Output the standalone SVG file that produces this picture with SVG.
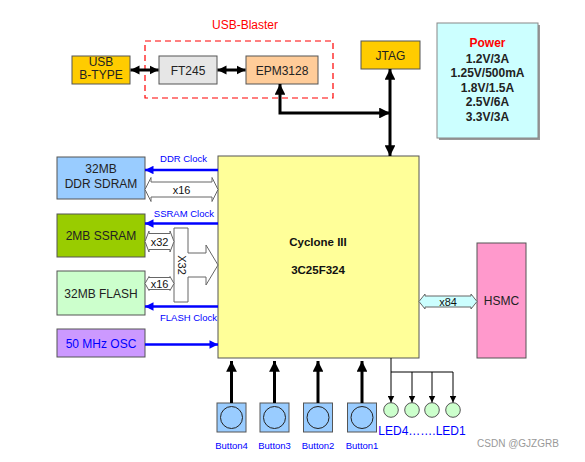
<svg xmlns="http://www.w3.org/2000/svg" width="585" height="462" viewBox="0 0 585 462">
<style>
text{font-family:"Liberation Sans",Arial,sans-serif;}
.box{stroke:#555;stroke-width:1;}
.lbl{font-size:12px;fill:#222;text-anchor:middle;}
.blue{fill:#0000ff;}
.clk{font-size:9.5px;fill:#0000ff;text-anchor:end;}
.blk{stroke:#000;stroke-width:3;fill:none;}
.bl{stroke:#0000ff;stroke-width:2.5;fill:none;}
.thin{stroke:#000;stroke-width:1;fill:none;}
.bus{fill:#fff;stroke:#666;stroke-width:1;}
.pw{font-size:12px;font-weight:bold;fill:#222;text-anchor:middle;}
.btn{font-size:9.5px;fill:#0000ff;text-anchor:middle;}
</style>
<defs>
<marker id="ab" viewBox="0 0 10 10" refX="10" refY="5" markerWidth="3.6" markerHeight="3.6" orient="auto-start-reverse" markerUnits="strokeWidth"><path d="M0,0 L10,5 L0,10 z" fill="#000"/></marker>
<marker id="as" viewBox="0 0 10 10" refX="10" refY="5" markerWidth="3" markerHeight="3.4" orient="auto-start-reverse" markerUnits="strokeWidth"><path d="M0,0 L10,5 L0,10 z" fill="#000"/></marker>
<marker id="abl" viewBox="0 0 10 10" refX="10" refY="5" markerWidth="4" markerHeight="3.4" orient="auto" markerUnits="strokeWidth"><path d="M0,0 L10,5 L0,10 z" fill="#0000ff"/></marker>
<marker id="at" viewBox="0 0 10 10" refX="10" refY="5" markerWidth="7" markerHeight="7" orient="auto" markerUnits="strokeWidth"><path d="M0,0 L10,5 L0,10 z" fill="#000"/></marker>
</defs>
<rect width="585" height="462" fill="#fff"/>

<g id="usb-blaster">
<rect x="145" y="41" width="188" height="57" fill="none" stroke="#ff0000" stroke-width="1.2" stroke-dasharray="6,4"/>
<text x="245" y="29" font-size="12" fill="#ff0000" text-anchor="middle">USB-Blaster</text>
</g>
<g id="usb">
<rect class="box" x="72" y="56" width="58" height="28" fill="#ffcc00"/>
<text class="lbl" x="101" y="65.5" font-size="11.5">USB</text>
<text class="lbl" x="101" y="78.5" font-size="11.5">B-TYPE</text>
</g>
<g id="ft245">
<rect class="box" x="159" y="56" width="58" height="28" fill="#e6e6e6"/>
<text class="lbl" x="188" y="74.5">FT245</text>
</g>
<g id="epm3128">
<rect class="box" x="246" y="56" width="72" height="28" fill="#ffcc99"/>
<text class="lbl" x="282" y="74.5">EPM3128</text>
</g>
<g id="jtag">
<rect class="box" x="361" y="41" width="59" height="28" fill="#ffcc00"/>
<text class="lbl" x="390.5" y="59.5">JTAG</text>
</g>
<g id="power">
<rect x="439" y="25" width="101" height="115" fill="#999"/>
<rect x="437" y="23" width="101" height="115" fill="#ccffff" stroke="#888" stroke-width="1"/>
<text class="pw" x="487.5" y="47" style="fill:#ff0000">Power</text>
<text class="pw" x="487.5" y="62.5">1.2V/3A</text>
<text class="pw" x="487.5" y="77">1.25V/500mA</text>
<text class="pw" x="487.5" y="91.5">1.8V/1.5A</text>
<text class="pw" x="487.5" y="106">2.5V/6A</text>
<text class="pw" x="487.5" y="120.5">3.3V/3A</text>
</g>
<g id="cyclone">
<rect class="box" x="218" y="156" width="201" height="202" fill="#ffff99"/>
<text x="318" y="246" font-size="11.5" font-weight="bold" fill="#111" text-anchor="middle">Cyclone III</text>
<text x="318" y="273.5" font-size="11.5" font-weight="bold" fill="#111" text-anchor="middle">3C25F324</text>
</g>
<g id="ddr">
<rect class="box" x="57" y="157" width="88" height="42" fill="#99ccff"/>
<text class="lbl" x="101" y="172.5">32MB</text>
<text class="lbl" x="101" y="188">DDR SDRAM</text>
</g>
<g id="ssram">
<rect class="box" x="57" y="214" width="88" height="43" fill="#99cc00"/>
<text class="lbl" x="101" y="240">2MB SSRAM</text>
</g>
<g id="flash">
<rect class="box" x="57" y="271" width="88" height="44" fill="#ccffcc"/>
<text class="lbl" x="101" y="297.5">32MB FLASH</text>
</g>
<g id="osc">
<rect class="box" x="57" y="329" width="88" height="28" fill="#cc99ff"/>
<text class="lbl" x="101" y="347.5" style="fill:#0000ff">50 MHz OSC</text>
</g>
<g id="hsmc">
<rect class="box" x="477" y="243" width="49" height="115" fill="#ff99cc"/>
<text class="lbl" x="501.5" y="305">HSMC</text>
</g>
<g id="buttons">
<g id="button4"><rect class="box" x="217" y="403" width="29" height="29" fill="#99ccff"/><circle cx="231.5" cy="417.5" r="11" fill="#99ccff" stroke="#222"/><text class="btn" x="231.5" y="449">Button4</text></g>
<g id="button3"><rect class="box" x="260" y="403" width="29" height="29" fill="#99ccff"/><circle cx="274.5" cy="417.5" r="11" fill="#99ccff" stroke="#222"/><text class="btn" x="274.5" y="449">Button3</text></g>
<g id="button2"><rect class="box" x="303.5" y="403" width="29" height="29" fill="#99ccff"/><circle cx="318" cy="417.5" r="11" fill="#99ccff" stroke="#222"/><text class="btn" x="318" y="449">Button2</text></g>
<g id="button1"><rect class="box" x="347.5" y="403" width="29" height="29" fill="#99ccff"/><circle cx="362" cy="417.5" r="11" fill="#99ccff" stroke="#222"/><text class="btn" x="362" y="449">Button1</text></g>
</g>
<g id="leds">
<circle cx="391" cy="410" r="7.3" fill="#ccffcc" stroke="#555"/>
<circle cx="412" cy="410" r="7.3" fill="#ccffcc" stroke="#555"/>
<circle cx="432" cy="410" r="7.3" fill="#ccffcc" stroke="#555"/>
<circle cx="453" cy="410" r="7.3" fill="#ccffcc" stroke="#555"/>
<text x="422" y="434.5" font-size="12" fill="#0000ff" text-anchor="middle">LED4…….LED1</text>
</g>

<g id="connectors">
<line class="blk" x1="130.5" y1="70" x2="158.5" y2="70" stroke-width="2.5" marker-start="url(#as)" marker-end="url(#as)"/>
<line class="blk" x1="217.5" y1="70" x2="245.5" y2="70" stroke-width="2.5" marker-start="url(#as)" marker-end="url(#as)"/>
<polyline class="blk" points="280,84 280,113 390,113" marker-start="url(#ab)" marker-end="url(#ab)"/>
<line class="blk" x1="390" y1="69" x2="390" y2="156" marker-start="url(#ab)" marker-end="url(#ab)"/>

<line class="bl" x1="218" y1="170" x2="145" y2="170" marker-end="url(#abl)"/>
<text class="clk" x="207" y="162">DDR Clock</text>
<line class="bl" x1="218" y1="223.5" x2="145" y2="223.5" marker-end="url(#abl)"/>
<text class="clk" x="214" y="216.5">SSRAM Clock</text>
<line class="bl" x1="218" y1="306.5" x2="145" y2="306.5" marker-end="url(#abl)"/>
<text class="clk" x="217" y="321">FLASH Clock</text>
<line class="bl" x1="145" y1="344.5" x2="218" y2="344.5" marker-end="url(#abl)"/>

<polygon class="bus" points="145,189.5 151,177.5 151,182 212,182 212,177.5 218,189.5 212,201.5 212,197 151,197 151,201.5"/>
<text x="181.5" y="193.5" font-size="11" fill="#111" text-anchor="middle">x16</text>

<polygon class="bus" points="174,228 188,228 188,253 206,253 206,245 218,265 206,285 206,277 188,277 188,302 174,302"/>
<text transform="translate(177.5,265) rotate(90)" font-size="11" fill="#111" text-anchor="middle">X32</text>
<polygon class="bus" points="145,241.5 149,231 149,233.5 170,233.5 170,231 174,241.5 170,252 170,249.5 149,249.5 149,252"/>
<text x="159.5" y="245.5" font-size="11" fill="#111" text-anchor="middle">x32</text>
<polygon class="bus" points="145,283.5 149,276.5 149,277.5 170,277.5 170,276.5 174,283.5 170,290.5 170,289.5 149,289.5 149,290.5"/>
<text x="159.5" y="287.5" font-size="11" fill="#111" text-anchor="middle">x16</text>

<polygon points="419,301.5 425,294 425,296 471,296 471,294 477,301.5 471,309 471,307 425,307 425,309" fill="#ccffff" stroke="#666"/>
<text x="448" y="305.5" font-size="11" fill="#111" text-anchor="middle">x84</text>

<line class="blk" x1="231.5" y1="403" x2="231.5" y2="361" marker-end="url(#ab)"/>
<line class="blk" x1="274.5" y1="403" x2="274.5" y2="361" marker-end="url(#ab)"/>
<line class="blk" x1="318" y1="403" x2="318" y2="361" marker-end="url(#ab)"/>
<line class="blk" x1="362" y1="403" x2="362" y2="361" marker-end="url(#ab)"/>

<polyline class="thin" points="391,358 391,372 453,372"/>
<line class="thin" x1="391" y1="372" x2="391" y2="402.5" marker-end="url(#at)"/>
<line class="thin" x1="412" y1="372" x2="412" y2="402.5" marker-end="url(#at)"/>
<line class="thin" x1="432" y1="372" x2="432" y2="402.5" marker-end="url(#at)"/>
<line class="thin" x1="453" y1="372" x2="453" y2="402.5" marker-end="url(#at)"/>
</g>
<text x="518" y="447" font-size="10" fill="#999" text-anchor="middle">CSDN @GJZGRB</text>
</svg>
